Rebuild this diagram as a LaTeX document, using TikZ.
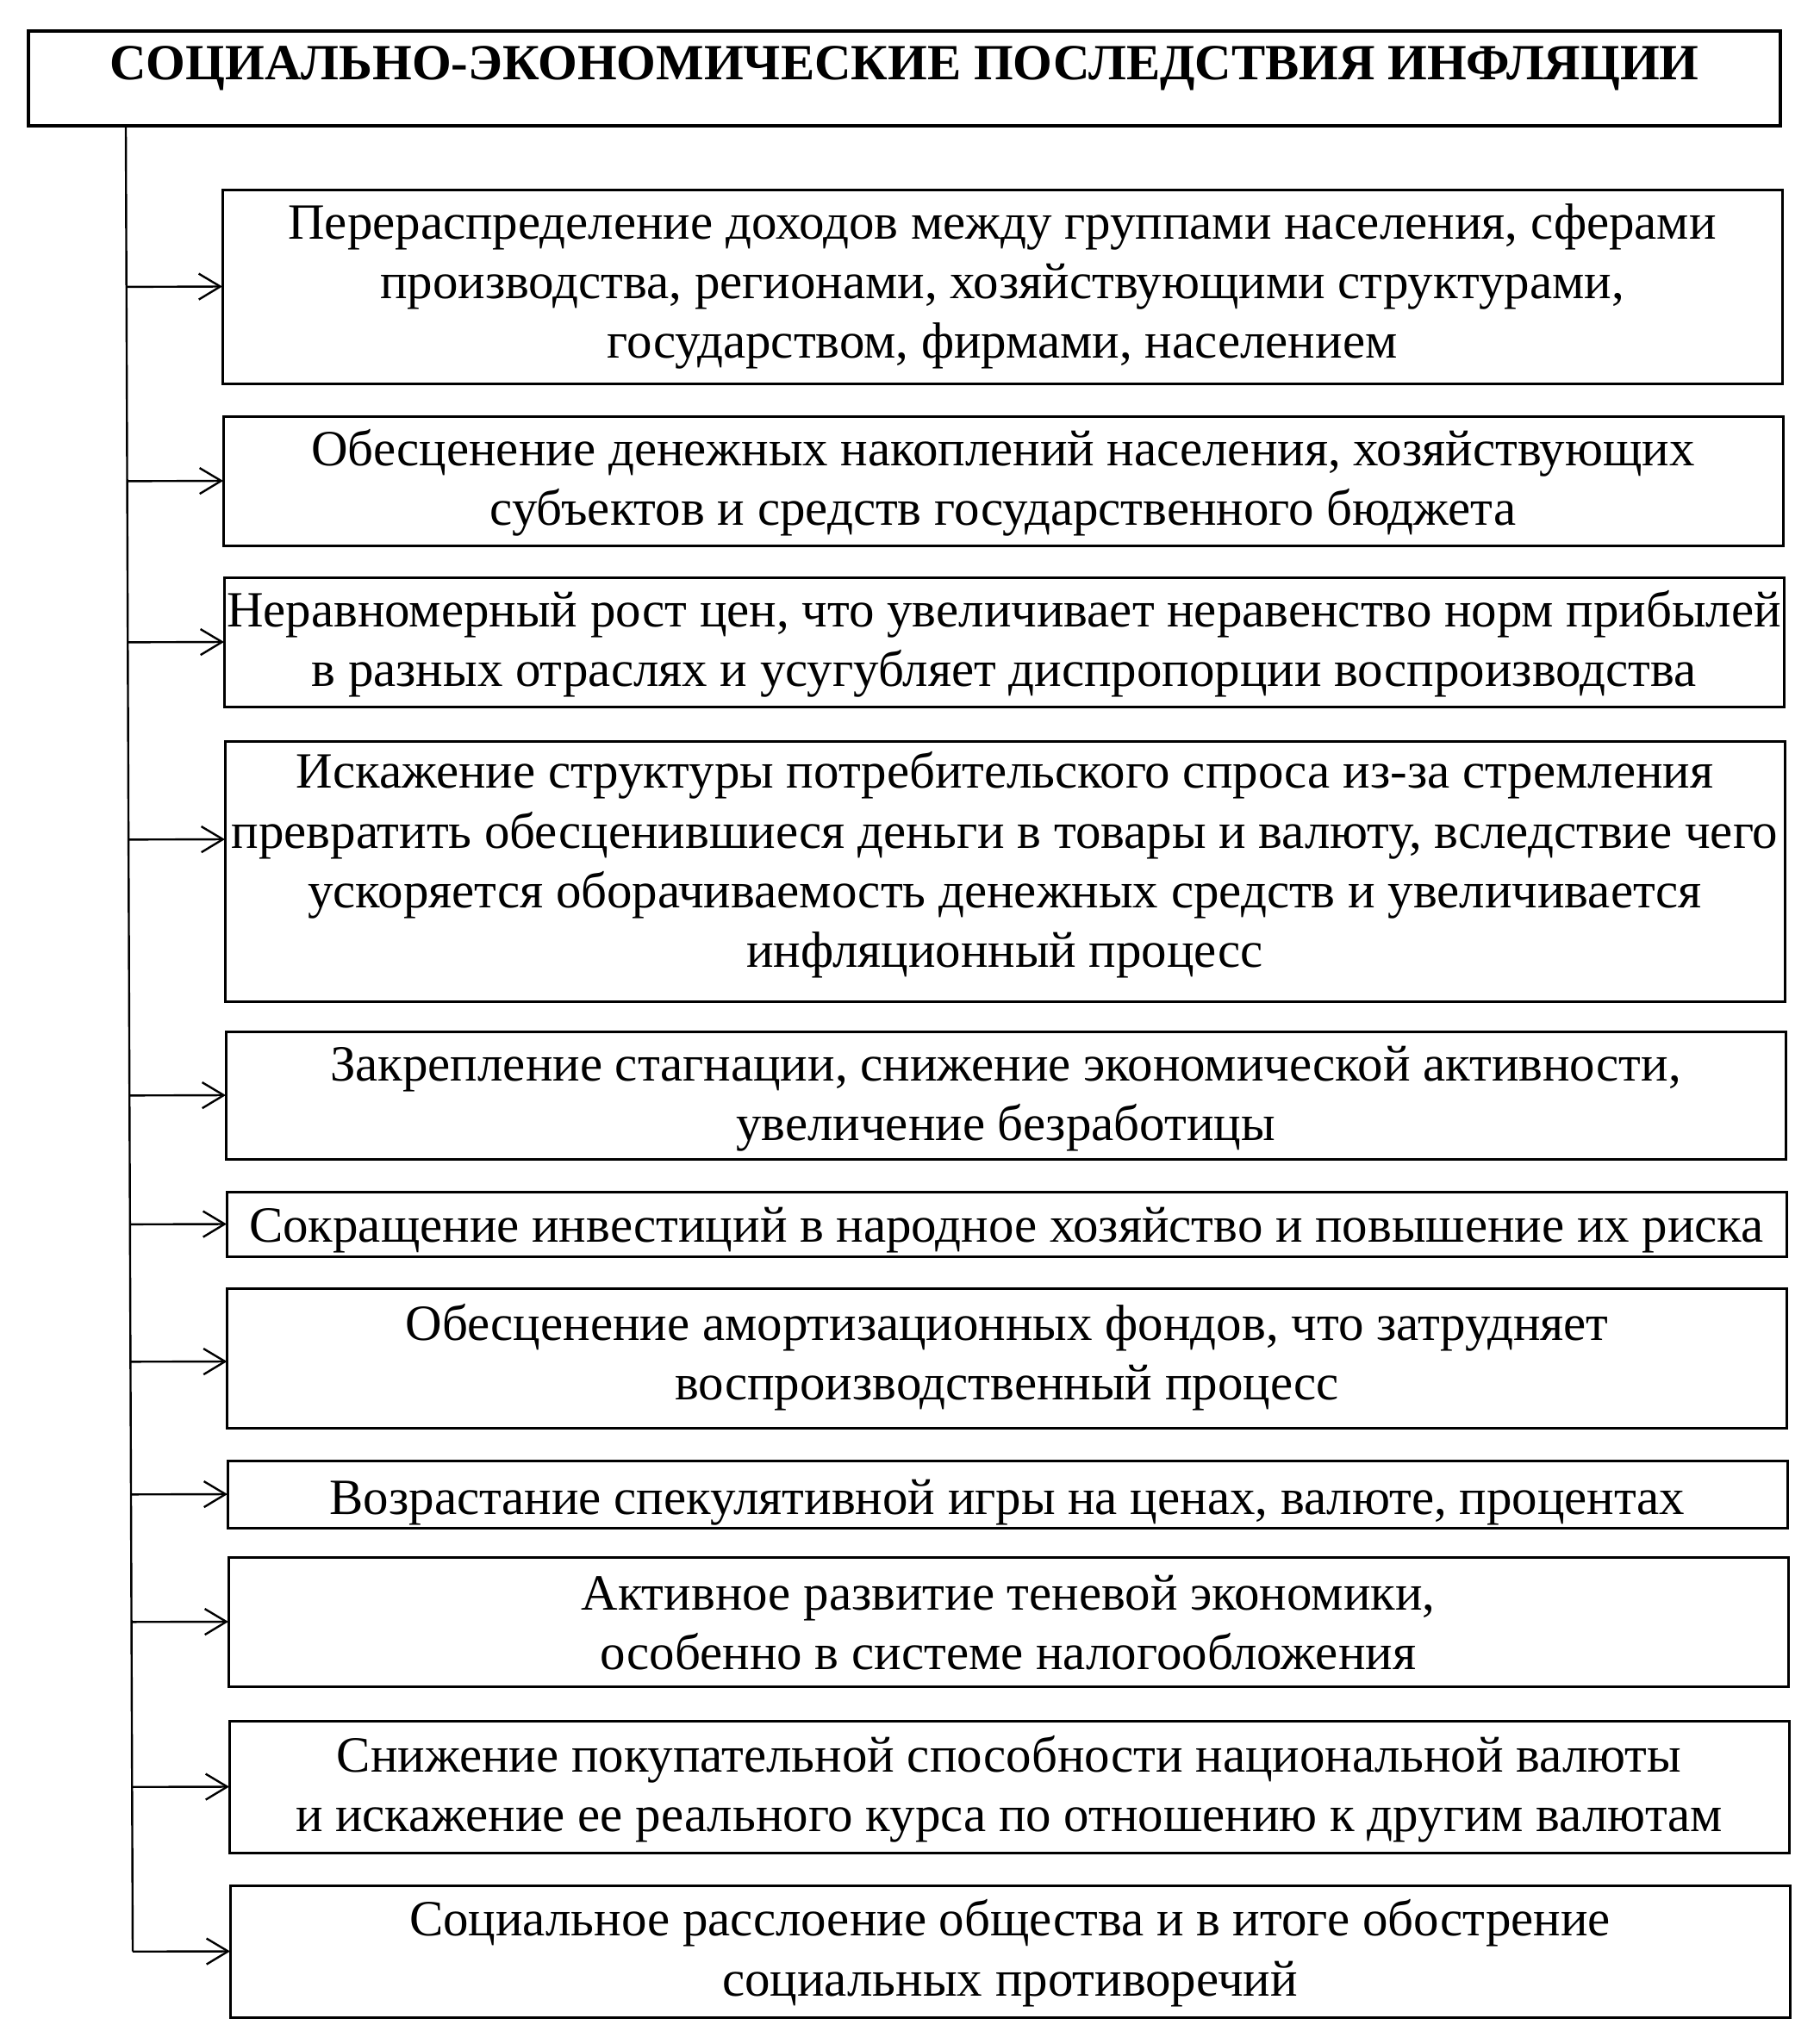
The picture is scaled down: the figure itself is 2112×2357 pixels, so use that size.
\documentclass[tikz,border=0pt]{standalone}
\usepackage{fontspec}
\setmainfont{Liberation Serif}
\usetikzlibrary{arrows.meta,calc}
\begin{document}
\begin{tikzpicture}[x=0.5pt,y=-0.5pt,
  box/.style={draw=black,line width=1.5pt,minimum width=905pt,inner sep=0pt,outer sep=0pt},
  txt/.style={align=center,font=\fontsize{29.45}{34.7}\selectfont,inner sep=0pt},
  conn/.style={line width=1.2pt,-{Straight Barb[length=12.5pt,width=15pt,line width=1.2pt]}},
  spine/.style={line width=1.2pt}]
\useasboundingbox (0,0) rectangle (2112,2357);
\fill[white] (0,0) rectangle (2112,2357);
% title
\node[box, line width=1.8pt, minimum width=1016.5pt, minimum height=55pt] (title) at (1049.5,91) {};
\node[font=\fontsize{29.4}{36}\selectfont\bfseries, anchor=base, inner sep=0pt] (tt) at (1049.5,92) {СОЦИАЛЬНО-ЭКОНОМИЧЕСКИЕ ПОСЛЕДСТВИЯ ИНФЛЯЦИИ};
% boxes (slight rightward drift of the scanned original)
\node[box, minimum height=112.5pt] (b1) at (1163,332.5) {};
\node[box, minimum height=75pt] (b2) at (1164,558) {};
\node[box, minimum height=75pt] (b3) at (1165,745) {};
\node[box, minimum height=151pt] (b4) at (1166,1011) {};
\node[box, minimum height=74pt] (b5) at (1167,1271) {};
\node[box, minimum height=37.5pt] (b6) at (1168,1420.5) {};
\node[box, minimum height=81pt] (b7) at (1168.5,1576) {};
\node[box, minimum height=39pt] (b8) at (1169,1734) {};
\node[box, minimum height=75pt] (b9) at (1170,1882) {};
\node[box, minimum height=76.5pt] (b10) at (1171,2073.5) {};
\node[box, minimum height=76.5pt] (b11) at (1172,2264.5) {};
% texts
\node[txt] (t1) at ($(b1.center)+(0,0)$) {Перераспределение доходов между группами населения, сферами\\производства, регионами, хозяйствующими структурами,\\государством, фирмами, населением};
\node[txt] (t2) at ($(b2.center)+(0,2)$) {Обесценение денежных накоплений населения, хозяйствующих\\субъектов и средств государственного бюджета};
\node[txt] (t3) at ($(b3.center)+(0,2)$) {Неравномерный рост цен, что увеличивает неравенство норм прибылей\\в разных отраслях и усугубляет диспропорции воспроизводства};
\node[txt] (t4) at ($(b4.center)+(0,-7)$) {Искажение структуры потребительского спроса из-за стремления\\превратить обесценившиеся деньги в товары и валюту, вследствие чего\\ускоряется оборачиваемость денежных средств и увеличивается\\инфляционный процесс};
\node[txt] (t5) at ($(b5.center)+(0,4)$) {Закрепление стагнации, снижение экономической активности,\\увеличение безработицы};
\node[txt] (t6) at ($(b6.center)+(0,7)$) {Сокращение инвестиций в народное хозяйство и повышение их риска};
\node[txt] (t7) at ($(b7.center)+(0,-1)$) {Обесценение амортизационных фондов, что затрудняет\\воспроизводственный процесс};
\node[txt] (t8) at ($(b8.center)+(0,10)$) {Возрастание спекулятивной игры на ценах, валюте, процентах};
\node[txt] (t9) at ($(b9.center)+(0,1)$) {Активное развитие теневой экономики,\\особенно в системе налогообложения};
\node[txt] (t10) at ($(b10.center)+(0,3)$) {Снижение покупательной способности национальной валюты\\и искажение ее реального курса по отношению к другим валютам};
\node[txt] (t11) at ($(b11.center)+(0,2)$) {Социальное расслоение общества и в итоге обострение\\социальных противоречий};
% connectors
\coordinate (s0) at (146,146);
\coordinate (s1) at (154,2264.5);
\coordinate (a1) at (b1.west);
\coordinate (a2) at (b2.west);
\coordinate (a3) at (b3.west);
\coordinate (a4) at ($(b4.west)+(0,-37)$);
\coordinate (a5) at (b5.west);
\coordinate (a6) at (b6.west);
\coordinate (a7) at ($(b7.west)+(0,4)$);
\coordinate (a8) at (b8.west);
\coordinate (a9) at (b9.west);
\coordinate (a10) at (b10.west);
\coordinate (a11) at (b11.west);
\draw[spine] (s0) -- (s1);
\foreach \i in {1,...,11}{
  \draw[conn] ($(s0)!(a\i)!(s1)$) -- (a\i);
}
\end{tikzpicture}
\end{document}
